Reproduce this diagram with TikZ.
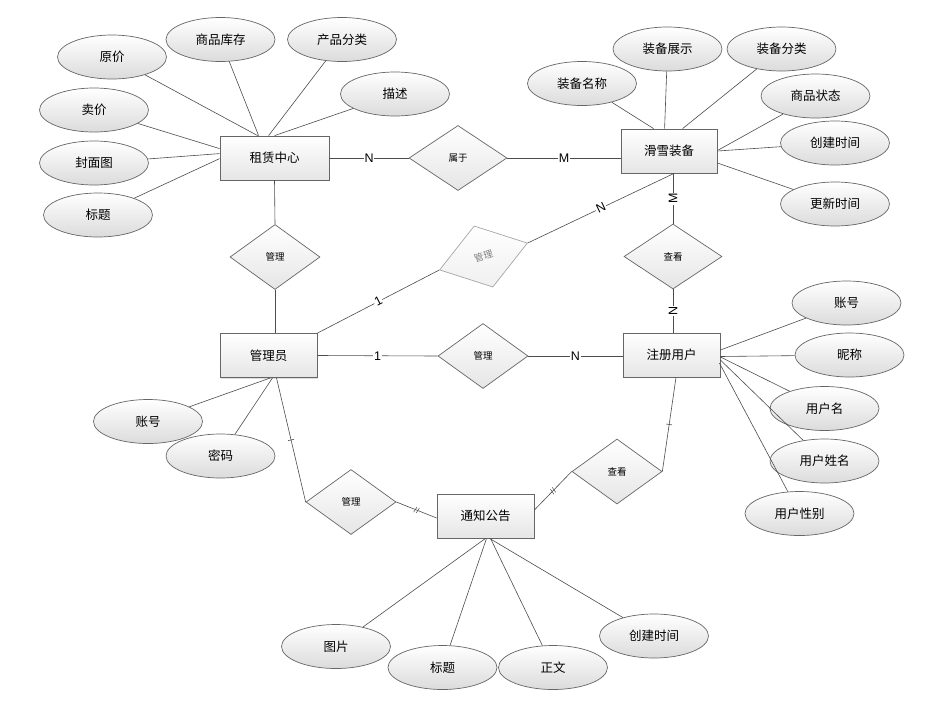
\documentclass[tikz,border=0pt]{standalone}
\usepackage{fontspec}
\setmainfont{Liberation Sans}
\newfontfamily\cjk{Noto Sans CJK SC}
\usetikzlibrary{shapes.geometric,calc,decorations.markings,shadows}

\begin{document}
\begin{tikzpicture}[x=1pt,y=-1pt,
  ent/.style={draw=black!60, line width=0.8pt, top color=white, bottom color=black!10,
    minimum width=97pt, minimum height=44pt, inner sep=0pt,
    font=\cjk\fontsize{12.5}{14}\selectfont,
    drop shadow={shadow xshift=1.2pt, shadow yshift=-1.2pt, fill=black!25}},
  attr/.style={ellipse, draw=black!60, line width=0.7pt, top color=white, bottom color=black!14,
    minimum width=109pt, minimum height=44pt, inner sep=0pt,
    font=\cjk\fontsize{12.5}{14}\selectfont},
  rel/.style={diamond, draw=black!60, line width=0.7pt, top color=white, bottom color=black!10,
    minimum width=90pt, minimum height=65pt, inner sep=0pt,
    font=\cjk\fontsize{9.5}{11}\selectfont},
  link/.style={draw=black!70, line width=0.6pt},
  card/.style={fill=white, inner sep=0.8pt, font=\fontsize{12.5}{13}\selectfont},
  onetick/.style={postaction={decorate}, decoration={markings,
    mark=at position 0.5 with {\draw[line width=0.6pt] (0pt,-3pt) -- (0pt,3pt);}}},
  twotick/.style={postaction={decorate}, decoration={markings,
    mark=at position 0.5 with {\draw[line width=0.5pt] (-1.8pt,-3pt) -- (-0.6pt,3pt) (0.8pt,-3pt) -- (2pt,3pt);}}},
]
\useasboundingbox (0,0) rectangle (937,715);
\fill[white] (0,0) rectangle (937,715);

% entities
\node[ent, minimum width=109pt] (zl) at (274.5,158) {租赁中心};
\node[ent, minimum width=96pt] (hx) at (669,151) {滑雪装备};
\node[ent] (gly) at (268.5,355.5) {管理员};
\node[ent] (zc) at (671.5,355) {注册用户};
\node[ent] (tz) at (485.5,516) {通知公告};

% relations
\node[rel, minimum width=98pt] (sy) at (458,158) {属于};
\node[rel] (gl1) at (275,257) {管理};
\node[rel, draw=black!35, text=black!50, bottom color=black!6, rotate=17,
      minimum width=92pt, minimum height=64pt] (gl4) at (483.5,256.5) {管理};
\node[rel, minimum width=98pt] (ck1) at (673,256.5) {查看};
\node[rel] (gl2) at (483,356) {管理};
\node[rel] (ck2) at (617,471.5) {查看};
\node[rel] (gl3) at (351,502) {管理};

% attributes of 租赁中心
\node[attr] (a1) at (112,57) {原价};
\node[attr] (a2) at (220.5,39.5) {商品库存};
\node[attr] (a3) at (342,39.5) {产品分类};
\node[attr] (a4) at (395,94) {描述};
\node[attr] (a5) at (94,110) {卖价};
\node[attr] (a6) at (94,163) {封面图};
\node[attr] (a7) at (98,215) {标题};

% attributes of 滑雪装备
\node[attr] (b1) at (582,83.5) {装备名称};
\node[attr] (b2) at (667.5,49) {装备展示};
\node[attr] (b3) at (781.5,49) {装备分类};
\node[attr] (b4) at (815.5,96) {商品状态};
\node[attr] (b5) at (835,143) {创建时间};
\node[attr] (b6) at (835,204) {更新时间};

% attributes of 注册用户
\node[attr] (c1) at (846.5,303) {账号};
\node[attr] (c2) at (849.5,355) {昵称};
\node[attr] (c3) at (824.5,408.5) {用户名};
\node[attr] (c4) at (824.5,461) {用户姓名};
\node[attr] (c5) at (799.5,513.5) {用户性别};

% attributes of 管理员
\node[attr] (d1) at (148,421.5) {账号};
\node[attr] (d2) at (220.5,456) {密码};

% attributes of 通知公告
\node[attr] (e1) at (336,646.5) {图片};
\node[attr] (e2) at (442.5,667.5) {标题};
\node[attr] (e3) at (553,667.5) {正文};
\node[attr] (e4) at (654,636) {创建时间};

% attribute links
\draw[link] (a1) -- ($(zl.north west)+(38,0)$);
\draw[link] (a2) -- ($(zl.north west)+(39,0)$);
\draw[link] (a3) -- ($(zl.north west)+(49,0)$);
\draw[link] (a4) -- ($(zl.north west)+(55,0)$);
\draw[link] (a5) -- ($(zl.north west)+(0,13)$);
\draw[link] (a6) -- ($(zl.north west)+(0,18)$);
\draw[link] (a7) -- ($(zl.north west)+(0,23)$);

\draw[link] (b1) -- ($(hx.north west)+(33,0)$);
\draw[link] (b2) -- ($(hx.north west)+(44,0)$);
\draw[link] (b3) -- ($(hx.north west)+(62,0)$);
\draw[link] (b4) -- ($(hx.east)+(1,-1)$);
\draw[link] (b5) -- (hx.east);
\draw[link] (b6) -- ($(hx.east)+(0,12)$);

\draw[link] (c1) -- ($(zc.east)+(0,-5)$);
\draw[link] (c2) -- ($(zc.east)+(0,1.5)$);
\draw[link] (c3) -- ($(zc.east)+(0,2)$);
\draw[link] (c4) -- ($(zc.east)+(0,5)$);
\draw[link] (c5) -- ($(zc.east)+(-1,8)$);

\draw[link] (d1) -- ($(gly.south)+(2,0)$);
\draw[link] (d2) -- ($(gly.south)+(4,0)$);

\draw[link] (e1) -- (tz.south);
\draw[link] (e2) -- ($(tz.south)+(1,0)$);
\draw[link] (e3) -- ($(tz.south)+(5,0)$);
\draw[link] (e4) -- ($(tz.south)+(4,0)$);

% relationship links
\draw[link] (zl.east) -- node[card]{N} (sy.west);
\draw[link] (sy.east) -- node[card]{M} (sy.east -| hx.west);
\draw[link] (hx.south -| ck1.north) -- node[card, rotate=90]{M} (ck1.north);
\draw[link] (ck1.south) -- node[card, rotate=90]{N} (ck1.south |- zc.north);
\draw[link] (zl.south) -- (gl1.north);
\draw[link] (gl1.south) -- (gl1.south |- gly.north);
\draw[link] (gly.north east) -- node[card, sloped]{1} (gl4.west);
\draw[link] (gl4.east) -- node[card, sloped]{N} ($(hx.south)+(5,0)$);
\draw[link] (gly.east) -- node[card]{1} (gl2.west);
\draw[link] (gl2.east) -- node[card]{N} (gl2.east -| zc.west);
\draw[link, onetick] ($(gly.south)+(8,0)$) -- (gl3.west);
\draw[link, twotick] (gl3.east) -- ($(tz.west)+(0,2)$);
\draw[link, onetick] ($(zc.south)+(4.5,0)$) -- (ck2.east);
\draw[link, twotick] ($(tz.east)+(0,-6)$) -- (ck2.west);
\end{tikzpicture}
\end{document}
